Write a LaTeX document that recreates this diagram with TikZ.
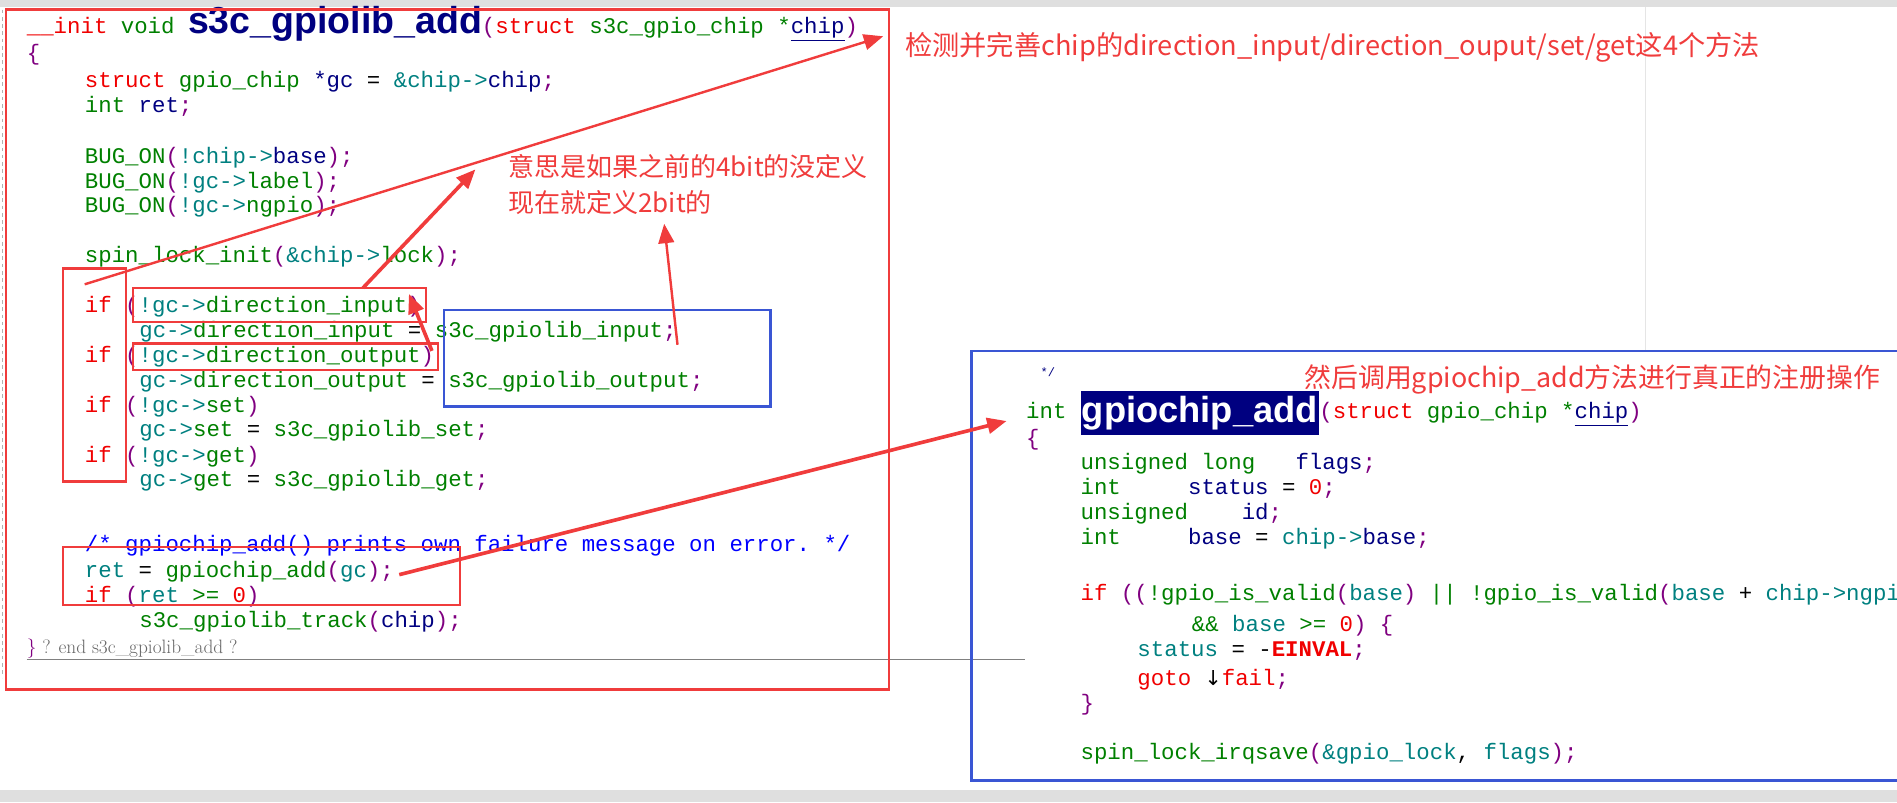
\documentclass[tikz,border=0pt]{standalone}
\usepackage{fontspec}
\setmonofont{Liberation Mono}
\newfontfamily\cjk{Noto Sans CJK SC}
\newfontfamily\bigsans{Liberation Sans}
\newfontfamily\symf{DejaVu Sans}
\usetikzlibrary{arrows.meta}
\definecolor{kred}{HTML}{F00000}
\definecolor{kgreen}{HTML}{008000}
\definecolor{kteal}{HTML}{008080}
\definecolor{kpurp}{HTML}{800080}
\definecolor{knavy}{HTML}{000080}
\definecolor{kblue}{HTML}{0000FF}
\definecolor{anno}{HTML}{F03C3C}
\definecolor{bbox}{HTML}{3A56D4}
\newcommand\cR[1]{\textcolor{kred}{#1}}
\newcommand\cG[1]{\textcolor{kgreen}{#1}}
\newcommand\cT[1]{\textcolor{kteal}{#1}}
\newcommand\cP[1]{\textcolor{kpurp}{#1}}
\newcommand\cN[1]{\textcolor{knavy}{#1}}
\tikzset{
  code/.style={anchor=base west,inner sep=0pt,font=\ttfamily\fontsize{18.5}{21}\selectfont},
  note/.style={anchor=base west,inner sep=0pt,text=anno,font=\cjk\fontsize{21.5}{24}\selectfont},
  redbox/.style={draw=anno,line width=2pt},
  bluebox/.style={draw=bbox,line width=2pt},
  arr/.style={draw=anno,line width=3pt,-{Triangle[length=16pt,width=13pt]}},
}
\begin{document}
\begin{tikzpicture}[x=1pt,y=-1pt]
\useasboundingbox (0,0) rectangle (1568,663);
\clip (0,0) rectangle (1568,663);
\fill[gray!25] (0,0) rectangle (1568,6);
\fill[gray!25] (0,653) rectangle (1568,663);
\draw[gray!20,line width=1pt] (1360,6) -- (1360,290);
\draw[gray!60,dashed] (2,8) -- (2,560);
\begin{scope}[yshift=-6pt]
% left code
\node[code] (l1) at (22,22) {\cR{\_\_init} \cG{void} {\bigsans\bfseries\fontsize{31}{31}\selectfont\cN{s3c\_gpiolib\_add}}\cP{(}\cR{struct} \cG{s3c\_gpio\_chip *}\cN{\underline{chip}}\cP{)}};
\node[code] (l2) at (22,44) {\cP{\{}};
\node[code] (l3) at (70,66) {\cR{struct} \cG{gpio\_chip} \cN{*gc} = \cT{\&chip->}\cN{chip}\cP{;}};
\node[code] (l4) at (70,87) {\cG{int} \cN{ret}\cP{;}};
\node[code] (l5) at (70,129) {\cG{BUG\_ON}\cP{(}\cT{!chip->}\cN{base}\cP{);}};
\node[code] (l6) at (70,150) {\cG{BUG\_ON}\cP{(}\cT{!gc->}\cG{label}\cP{);}};
\node[code] (l7) at (70,170) {\cG{BUG\_ON}\cP{(}\cT{!gc->}\cG{ngpio}\cP{);}};
\node[code] (l8) at (70,211) {\cG{spin\_lock\_init}\cP{(}\cT{\&chip->}\cG{lock}\cP{);}};
\node[code] (l9) at (70,252) {\cR{if} \cP{(}\cT{!gc->}\cG{direction\_input}\cP{)}};
\node[code] (l10) at (115,273) {\cT{gc->}\cG{direction\_input} = \cG{s3c\_gpiolib\_input}\cP{;}};
\node[code] (l11) at (70,294) {\cR{if} \cP{(}\cT{!gc->}\cG{direction\_output}\cP{)}};
\node[code] (l12) at (115,314) {\cT{gc->}\cG{direction\_output} = \cG{s3c\_gpiolib\_output}\cP{;}};
\node[code] (l13) at (70,335) {\cR{if} \cP{(}\cT{!gc->}\cG{set}\cP{)}};
\node[code] (l14) at (115,355) {\cT{gc->}\cG{set} = \cG{s3c\_gpiolib\_set}\cP{;}};
\node[code] (l15) at (70,376) {\cR{if} \cP{(}\cT{!gc->}\cG{get}\cP{)}};
\node[code] (l16) at (115,396) {\cT{gc->}\cG{get} = \cG{s3c\_gpiolib\_get}\cP{;}};
\node[code] (l17) at (70,450) {\textcolor{kblue}{/* gpiochip\_add() prints own failure message on error. */}};
\node[code] (l18) at (70,471) {\cT{ret} = \cG{gpiochip\_add}\cP{(}\cT{gc}\cP{);}};
\node[code] (l19) at (70,492) {\cR{if} \cP{(}\cT{ret} \cG{>=} \cR{0}\cP{)}};
\node[code] (l20) at (115,513) {\cG{s3c\_gpiolib\_track}\cP{(}\cN{chip}\cP{);}};
\node[code,font=\rmfamily\fontsize{16}{18}\selectfont,text=gray!80!black] (l21) at (22,534) {\cP{\}} ? end s3c\_gpiolib\_add ?};
% right code
\node[code,font=\ttfamily\fontsize{10}{10}\selectfont] (r0) at (860,305) {\cN{*/}};
\node[code] (r1) at (848,340) {\cG{int}};
\node[anchor=base west,fill=knavy,text=white,inner xsep=1pt,inner ysep=4pt,font=\bigsans\bfseries\fontsize{30}{30}\selectfont] (rname) at (893,343) {gpiochip\_add};
\node[code] (r1b) at ([yshift=3pt]rname.base east) {\cP{(}\cR{struct} \cG{gpio\_chip *}\cN{\underline{chip}}\cP{)}};
\node[code] (r2) at (848,362) {\cP{\{}};
\node[code] (r3) at (893,382) {\cG{unsigned long}\ \ \ \cN{flags}\cP{;}};
\node[code] (r4) at (893,403) {\cG{int}\ \ \ \ \ \cN{status} = \cR{0}\cP{;}};
\node[code] (r5) at (893,423) {\cG{unsigned}\ \ \ \ \cN{id}\cP{;}};
\node[code] (r6) at (893,444) {\cG{int}\ \ \ \ \ \cN{base} = \cT{chip->}\cN{base}\cP{;}};
\node[code] (r7) at (893,490) {\cR{if} \cP{((}\cG{!gpio\_is\_valid}\cP{(}\cT{base}\cP{)} \cG{||} \cG{!gpio\_is\_valid}\cP{(}\cT{base} + \cT{chip->ngpio}\cP{)}};
\node[code] (r8) at (985,516) {\cG{\&\&} \cT{base} \cG{>=} \cR{0}\cP{)} \cP{\{}};
\node[code] (r9) at (940,537) {\cT{status} = -\cR{\textbf{EINVAL}}\cP{;}};
\node[code] (r10) at (940,561) {\cR{goto} {\symf\fontsize{17}{17}\selectfont ↓}\cR{fail}\cP{;}};
\node[code] (r11) at (893,581) {\cP{\}}};
\node[code] (r12) at (893,622) {\cG{spin\_lock\_irqsave}\cP{(}\cT{\&gpio\_lock}, \cT{flags}\cP{);}};
\end{scope}
\draw[gray,line width=1pt] (22,545) -- (847,545);
% boxes
\draw[redbox] (5,8) rectangle (735,570);
\draw[redbox] (52,222) rectangle (104,398);
\draw[redbox] (110,238) rectangle (352,266);
\draw[redbox] (110,284) rectangle (362,306);
\draw[redbox] (52,452) rectangle (380,500);
\draw[bluebox] (367,256) rectangle (637,336);
\draw[bluebox] (803,290) rectangle (1580,645);
% notes
\node[note,font=\cjk\fontsize{22.5}{24}\selectfont] (n1) at (748,46) {检测并完善chip的direction\_input/direction\_ouput/set/get这4个方法};
\node[note] (n2) at (420,146) {意思是如果之前的4bit的没定义};
\node[note] (n3) at (420,176) {现在就定义2bit的};
\node[note,font=\cjk\fontsize{22.2}{24}\selectfont] (n4) at (1078,320) {然后调用gpiochip\_add方法进行真正的注册操作};
% arrows
\coordinate (a1s) at (70,235);
\coordinate (a1e) at (730,30);
\coordinate (a2s) at (300,238);
\coordinate (a2e) at (393,140);
\coordinate (a3s) at (357,290);
\coordinate (a3e) at (338,243);
\coordinate (a4s) at (560,285);
\coordinate (a4e) at (549,185);
\coordinate (a5s) at (330,475);
\coordinate (a5e) at (832,348);
\draw[arr,line width=2pt] (a1s) -- (a1e);
\draw[arr] (a2s) -- (a2e);
\draw[arr] (a3s) -- (a3e);
\draw[arr,line width=2pt] (a4s) -- (a4e);
\draw[arr] (a5s) -- (a5e);
\end{tikzpicture}
\end{document}
